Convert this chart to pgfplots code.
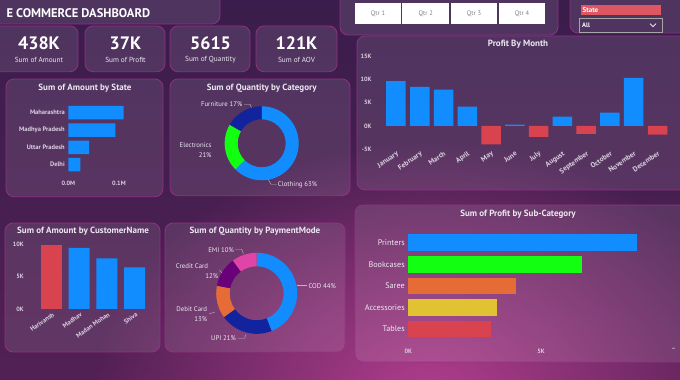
\documentclass[border=0pt]{standalone}
\usepackage{pgfplots}
\pgfplotsset{compat=1.18}
\usepackage{fontspec}
\setmainfont{PT Sans}
\usetikzlibrary{calc,fadings}

\definecolor{pbblue}{HTML}{118DFF}
\definecolor{pbred}{HTML}{D9434F}
\definecolor{pbgreen}{HTML}{12FF12}
\definecolor{pborange}{HTML}{E66C37}
\definecolor{pbyellow}{HTML}{E0C232}
\definecolor{pbnavy}{HTML}{12239E}
\definecolor{pbpurple}{HTML}{6B007B}
\definecolor{pbpink}{HTML}{E044A7}
\definecolor{bgtop}{RGB}{58,29,76}
\definecolor{bgbot}{RGB}{82,32,84}
\definecolor{glowcol}{RGB}{178,62,142}
\definecolor{panelborder}{RGB}{150,50,135}
\definecolor{txt}{RGB}{236,232,242}
\definecolor{ticktxt}{RGB}{218,208,224}
\definecolor{leader}{RGB}{190,180,195}

\tikzfading[name=glow, inner color=transparent!0, outer color=transparent!100]

\newcommand\donut[5]{%
 \gdef\curang{90}%
 \foreach \p/\c in {#5}{%
   \pgfmathsetmacro\endang{\curang-\p*3.6}%
   \fill[\c] ($(#1,#2)+(\curang:#3)$) arc[start angle=\curang,end angle=\endang,radius=#3] -- ($(#1,#2)+(\endang:#4)$) arc[start angle=\endang,end angle=\curang,radius=#4] -- cycle;%
   \xdef\curang{\endang}%
 }}

\pgfplotsset{dash/.style={scale only axis, axis line style={draw=none}, major tick length=0pt,
  tick style={draw=none}, clip=false, /pgf/number format/assume math mode=true,
  ticklabel style={font=\fontsize{6.2}{7}\selectfont\bfseries, text=ticktxt}}}

\tikzset{panel/.style={fill=white, fill opacity=0.1, draw=panelborder, draw opacity=0.9, line width=0.8pt, rounded corners=8pt},
 ttl/.style={font=\fontsize{9}{10}\selectfont\bfseries, text=txt},
 lbl/.style={font=\fontsize{6.8}{8}\selectfont, text=txt, inner sep=0pt}}

\begin{document}
\begin{tikzpicture}[x=1pt,y=1pt]
\useasboundingbox (0,0) rectangle (680,380);
\clip (0,0) rectangle (680,380);
% anchor points for the axes
\coordinate (pmA) at (384.1,231);
\coordinate (stA) at (68.3,206.6);
\coordinate (cuA) at (37.3,71);
\coordinate (scA) at (408.3,40.2);
% background
\shade[top color=bgtop, bottom color=bgbot] (0,0) rectangle (680,380);
\fill[glowcol, path fading=glow] (430,-20) ellipse (340 and 260);

% panels
\draw[panel] (-10,356) rectangle (220,390);
\draw[panel] (-10,308.3) rectangle (78,354);
\draw[panel] (85,308.3) rectangle (165,354);
\draw[panel] (170,308.3) rectangle (250,354);
\draw[panel] (256,308.3) rectangle (337,354);
\draw[panel] (340,345) rectangle (558,390);
\draw[panel] (570,347) rectangle (690,390);
\draw[panel] (357,190) rectangle (690,344);
\draw[panel] (6,183.3) rectangle (163,301);
\draw[panel] (170,184.3) rectangle (350,301);
\draw[panel] (5,28) rectangle (160,157);
\draw[panel] (165,28) rectangle (345,157);
\draw[panel] (355,18) rectangle (690,175);

% header
\node[anchor=west, font=\fontsize{12.5}{14}\selectfont\bfseries, text=white] at (3,366.7) {E COMMERCE DASHBOARD};
\foreach \cx/\v/\l in {39/438K/Sum of Amount, 125.5/37K/Sum of Profit, 210.5/5615/Sum of Quantity, 296.5/121K/Sum of AOV}{
  \node[font=\fontsize{18}{20}\selectfont\bfseries, text=white] at (\cx,337) {\v};
  \node[font=\fontsize{7.3}{8}\selectfont, text=txt] at (\cx,320) {\l};
}
% quarter slicer
\foreach \a/\b/\q in {355/401/Qtr 1, 402.3/449.3/Qtr 2, 450.7/497.3/Qtr 3, 499/545/Qtr 4}{
  \fill[white] (\a,355.7) rectangle (\b,376.7);
  \node[font=\fontsize{6.5}{8}\selectfont, text=black!50] at ({(\a+\b)/2},366.2) {\q};
}
% state slicer
\fill[pbred!90!white] (580.7,365) rectangle (661,375);
\node[anchor=west, font=\fontsize{7}{8}\selectfont\bfseries, text=white, inner sep=0pt] at (582.5,370) {State};
\draw[black!35!white, line width=0.6pt] (579.3,347.3) rectangle (662.7,361.7);
\node[anchor=west, font=\fontsize{6.5}{8}\selectfont\bfseries, text=white, inner sep=0pt] at (582,354.5) {All};
\draw[white, line width=0.7pt] (650,356.3) -- (653,353.3) -- (656,356.3);

% titles
\node[ttl] at (518,335.7) {Profit By Month};
\node[ttl] at (518,165.7) {Sum of Profit by Sub-Category};
\node[ttl] at (85,291.7) {Sum of Amount by State};
\node[ttl] at (261.7,292) {Sum of Quantity by Category};
\node[ttl] at (83,148.3) {Sum of Amount by CustomerName};
\node[ttl] at (255,148.3) {Sum of Quantity by PaymentMode};

% Profit by month
\begin{axis}[dash, at={(pmA)}, anchor=south west, width=285.3pt, height=92.3pt,
  xmin=-0.5, xmax=11.5, ymin=-5000, ymax=15000, ybar, bar width=19.5pt,
  xtick={0,...,11}, xticklabels={January,February,March,April,May,June,July,August,September,October,November,December},
  xticklabel style={rotate=35, anchor=north east, inner sep=1pt, font=\fontsize{7.2}{8}\selectfont\bfseries},
  ytick={-5000,0,5000,10000,15000}, yticklabels={-5K,0K,5K,10K,15K}, yticklabel style={xshift=-9pt},
  scaled y ticks=false]
\addplot[fill=pbblue, draw=none, bar shift=0pt] coordinates {(0,9700) (1,8460) (2,7870) (3,4200) (5,300) (7,2000) (9,2900) (10,10400)};
\addplot[fill=pbred, draw=none, bar shift=0pt] coordinates {(4,-4000) (6,-2350) (8,-1700) (11,-1900)};
\end{axis}

% Amount by state
\begin{axis}[dash, xbar, at={(stA)}, anchor=south west, width=60.8pt, height=69.4pt,
  xmin=0, xmax=0.12, ymin=-0.5, ymax=3.5, bar width=13.5pt,
  ytick={0,1,2,3}, yticklabels={Delhi,Uttar Pradesh,Madhya Pradesh,Maharashtra},
  yticklabel style={font=\fontsize{6.5}{7}\selectfont\bfseries},
  xtick={0,0.1}, xticklabels={0.0M,0.1M}, xticklabel style={yshift=-4.5pt}]
\addplot[fill=pbblue, draw=none, bar shift=0pt] coordinates {(0.024,0) (0.041,1) (0.093,2) (0.109,3)};
\end{axis}

% Amount by customer
\begin{axis}[dash, ybar, at={(cuA)}, anchor=south west, width=111.2pt, height=64.7pt,
  xmin=-0.5, xmax=3.5, ymin=0, ymax=10000, bar width=21pt,
  xtick={0,1,2,3}, xticklabels={Harivansh,Madhav,Madan Mohan,Shiva},
  xticklabel style={rotate=35, anchor=north east, inner sep=1pt, yshift=-2pt, font=\fontsize{6.5}{7}\selectfont\bfseries},
  ytick={0,5000,10000}, yticklabels={0K,5K,10K}, yticklabel style={xshift=-10pt}, scaled y ticks=false]
\addplot[fill=pbred, draw=none, bar shift=0pt] coordinates {(0,9940)};
\addplot[fill=pbblue, draw=none, bar shift=0pt] coordinates {(1,9430) (2,7840) (3,6450)};
\end{axis}

% Profit by sub-category
\begin{axis}[dash, xbar, at={(scA)}, anchor=south west, width=265.4pt, height=107.9pt,
  xmin=0, xmax=10000, ymin=-0.5, ymax=4.5, bar width=16.7pt,
  ytick={0,1,2,3,4}, yticklabels={Tables,Accessories,Saree,Bookcases,Printers},
  yticklabel style={font=\fontsize{8.2}{9}\selectfont, text=txt},
  xtick={0,5000,10000}, xticklabels={0K,5K,--}, xticklabel style={yshift=-5.5pt}, scaled x ticks=false]
\addplot[fill=pbred, draw=none, bar shift=0pt] coordinates {(3110,0)};
\addplot[fill=pbyellow, draw=none, bar shift=0pt] coordinates {(3350,1)};
\addplot[fill=pborange, draw=none, bar shift=0pt] coordinates {(4060,2)};
\addplot[fill=pbgreen, draw=none, bar shift=0pt] coordinates {(6530,3)};
\addplot[fill=pbblue, draw=none, bar shift=0pt] coordinates {(8600,4)};
\end{axis}

% donut: quantity by category
\donut{261.7}{236.7}{37pt}{24pt}{62.6/pbblue, 20.8/pbgreen, 16.6/pbnavy}
\node[lbl, anchor=east] at (242.5,276) {Furniture 17\%};
\draw[leader, line width=0.4pt] (244,275.7) -- (250,275.7) -- (251.5,272.5);
\node[lbl, anchor=east] at (211.7,235) {Electronics};
\node[lbl, anchor=east] at (211.7,225) {21\%};
\node[lbl, anchor=west] at (277.7,195.7) {Clothing 63\%};
\draw[leader, line width=0.4pt] (268.3,200.5) -- (271,195.7) -- (276.5,195.7);

% donut: quantity by payment mode
\donut{256.7}{86.7}{40.5pt}{27pt}{44/pbblue, 21/pbnavy, 13/pborange, 12/pbpurple, 10/pbpink}
\node[lbl, anchor=east] at (234,130) {EMI 10\%};
\draw[leader, line width=0.4pt] (235,130.7) -- (241.7,130.7) -- (243.5,126.3);
\node[lbl, anchor=east] at (208.3,114) {Credit Card};
\node[lbl, anchor=east] at (218.3,104) {12\%};
\draw[leader, line width=0.4pt] (219.5,110) -- (222,107);
\node[lbl, anchor=west] at (308.3,94.3) {COD 44\%};
\draw[leader, line width=0.4pt] (297,94.3) -- (306.7,94.3);
\node[lbl, anchor=east] at (207.3,70.7) {Debit Card};
\node[lbl, anchor=east] at (207.3,60.7) {13\%};
\draw[leader, line width=0.4pt] (209,66) -- (215,68);
\node[lbl, anchor=east] at (236,41.7) {UPI 21\%};
\draw[leader, line width=0.4pt] (237.5,41.7) -- (244.5,41.7) -- (246,45.5);
\end{tikzpicture}
\end{document}
